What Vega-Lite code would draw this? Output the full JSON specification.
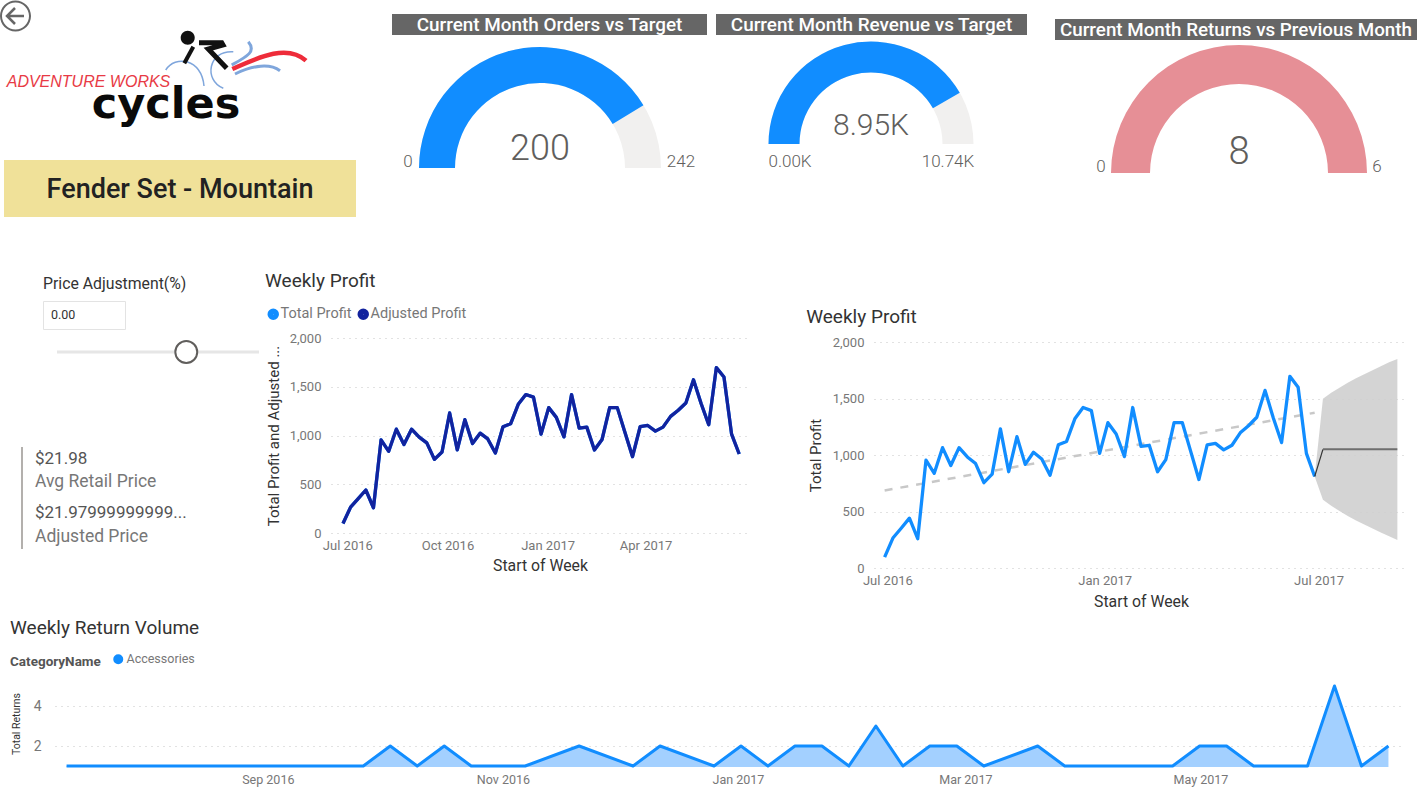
{
"$schema":"https://vega.github.io/schema/vega-lite/v6.json",
"padding":0,
"background":"white",
"spacing":0,
"data":{"values":[]},
"resolve":{"scale":{"color":"independent"},"legend":{"color":"independent"}},
"config":{
 "view":{"stroke":null},
 "font":"Roboto",
 "concat":{"spacing":0},
 "axis":{"domain":false,"ticks":false,"labelColor":"#777777","labelFont":"Roboto","titleFont":"Roboto","titleColor":"#333333","titleFontWeight":"normal","gridColor":"#C4C4C4","gridDash":[1,5],"gridWidth":1},
 "title":{"font":"Roboto","fontWeight":"normal","color":"#333333","anchor":"start"}
},
"datasets":{
 "one":[{"item":"logo"}],
 "weekly":[
 {"week":"2016-06-27","total":97,"adjusted":97},{"week":"2016-07-04","total":265,"adjusted":265},{"week":"2016-07-11","total":352,"adjusted":352},{"week":"2016-07-18","total":441,"adjusted":441},{"week":"2016-07-25","total":259,"adjusted":259},{"week":"2016-08-01","total":955,"adjusted":955},{"week":"2016-08-08","total":838,"adjusted":838},{"week":"2016-08-15","total":1065,"adjusted":1065},{"week":"2016-08-22","total":907,"adjusted":907},{"week":"2016-08-29","total":1065,"adjusted":1065},{"week":"2016-09-05","total":983,"adjusted":983},{"week":"2016-09-12","total":924,"adjusted":924},{"week":"2016-09-19","total":755,"adjusted":755},{"week":"2016-09-26","total":831,"adjusted":831},{"week":"2016-10-03","total":1231,"adjusted":1231},{"week":"2016-10-10","total":852,"adjusted":852},{"week":"2016-10-17","total":1162,"adjusted":1162},{"week":"2016-10-24","total":917,"adjusted":917},{"week":"2016-10-31","total":1024,"adjusted":1024},{"week":"2016-11-07","total":965,"adjusted":965},{"week":"2016-11-14","total":821,"adjusted":821},{"week":"2016-11-21","total":1090,"adjusted":1090},{"week":"2016-11-28","total":1120,"adjusted":1120},{"week":"2016-12-05","total":1320,"adjusted":1320},{"week":"2016-12-12","total":1420,"adjusted":1420},{"week":"2016-12-19","total":1393,"adjusted":1393},{"week":"2016-12-26","total":1014,"adjusted":1014},{"week":"2017-01-02","total":1286,"adjusted":1286},{"week":"2017-01-09","total":1186,"adjusted":1186},{"week":"2017-01-16","total":986,"adjusted":986},{"week":"2017-01-23","total":1420,"adjusted":1420},{"week":"2017-01-30","total":1076,"adjusted":1076},{"week":"2017-02-06","total":1086,"adjusted":1086},{"week":"2017-02-13","total":852,"adjusted":852},{"week":"2017-02-20","total":959,"adjusted":959},{"week":"2017-02-27","total":1286,"adjusted":1286},{"week":"2017-03-06","total":1286,"adjusted":1286},{"week":"2017-03-13","total":1034,"adjusted":1034},{"week":"2017-03-20","total":783,"adjusted":783},{"week":"2017-03-27","total":1090,"adjusted":1090},{"week":"2017-04-03","total":1103,"adjusted":1103},{"week":"2017-04-10","total":1045,"adjusted":1045},{"week":"2017-04-17","total":1086,"adjusted":1086},{"week":"2017-04-24","total":1196,"adjusted":1196},{"week":"2017-05-01","total":1259,"adjusted":1259},{"week":"2017-05-08","total":1334,"adjusted":1334},{"week":"2017-05-15","total":1572,"adjusted":1572},{"week":"2017-05-22","total":1328,"adjusted":1328},{"week":"2017-05-29","total":1110,"adjusted":1110},{"week":"2017-06-05","total":1696,"adjusted":1696},{"week":"2017-06-12","total":1600,"adjusted":1600},{"week":"2017-06-19","total":1014,"adjusted":1014},{"week":"2017-06-26","total":810,"adjusted":810}],
 "forecast":[
 {"week":"2017-06-26","forecast":810,"lower":810,"upper":810},{"week":"2017-07-03","forecast":1050,"lower":604,"upper":1498},{"week":"2017-07-10","forecast":1050,"lower":550,"upper":1550},{"week":"2017-07-17","forecast":1050,"lower":505,"upper":1595},{"week":"2017-07-24","forecast":1050,"lower":460,"upper":1640},{"week":"2017-07-31","forecast":1050,"lower":420,"upper":1680},{"week":"2017-08-07","forecast":1050,"lower":385,"upper":1715},{"week":"2017-08-14","forecast":1050,"lower":350,"upper":1750},{"week":"2017-08-21","forecast":1050,"lower":315,"upper":1785},{"week":"2017-08-28","forecast":1050,"lower":280,"upper":1820},{"week":"2017-09-04","forecast":1050,"lower":247,"upper":1850}],
 "trend":[{"week":"2016-06-27","trend":686},{"week":"2017-06-26","trend":1374}],
 "returns":[
 {"week":"2016-07-10","returns":1},{"week":"2016-07-17","returns":1},{"week":"2016-07-24","returns":1},{"week":"2016-07-31","returns":1},{"week":"2016-08-07","returns":1},{"week":"2016-08-14","returns":1},{"week":"2016-08-21","returns":1},{"week":"2016-08-28","returns":1},{"week":"2016-09-04","returns":1},{"week":"2016-09-11","returns":1},{"week":"2016-09-18","returns":1},{"week":"2016-09-25","returns":1},{"week":"2016-10-02","returns":2},{"week":"2016-10-09","returns":1},{"week":"2016-10-16","returns":2},{"week":"2016-10-23","returns":1},{"week":"2016-10-30","returns":1},{"week":"2016-11-06","returns":1},{"week":"2016-11-20","returns":2},{"week":"2016-12-04","returns":1},{"week":"2016-12-11","returns":2},{"week":"2016-12-25","returns":1},{"week":"2017-01-01","returns":2},{"week":"2017-01-08","returns":1},{"week":"2017-01-15","returns":2},{"week":"2017-01-22","returns":2},{"week":"2017-01-29","returns":1},{"week":"2017-02-05","returns":3},{"week":"2017-02-12","returns":1},{"week":"2017-02-19","returns":2},{"week":"2017-02-26","returns":2},{"week":"2017-03-05","returns":1},{"week":"2017-03-19","returns":2},{"week":"2017-03-26","returns":1},{"week":"2017-04-02","returns":1},{"week":"2017-04-09","returns":1},{"week":"2017-04-16","returns":1},{"week":"2017-04-23","returns":1},{"week":"2017-04-30","returns":2},{"week":"2017-05-07","returns":2},{"week":"2017-05-14","returns":1},{"week":"2017-05-21","returns":1},{"week":"2017-05-28","returns":1},{"week":"2017-06-04","returns":5},{"week":"2017-06-11","returns":1},{"week":"2017-06-18","returns":2}]
},
"vconcat":[
 {"spacing":0,"hconcat":[
  {"spacing":0,"vconcat":[
   {"width":392,"height":160,"data":{"name":"one"},"layer":[
    {"mark":{"type":"point","shape":"M-196,-64a15.5,15.5 0 1,1 31,0a15.5,15.5 0 1,1 -31,0ZM-194,-64a13.5,13.5 0 1,0 27,0a13.5,13.5 0 1,0 -27,0Z","size":4,"filled":true,"fill":"#666666","opacity":1}},
    {"mark":{"type":"point","shape":"M-172,-64L-188,-64M-181,-72L-189,-64L-181,-56","size":4,"filled":false,"stroke":"#666666","strokeWidth":2.5,"opacity":1}},
    {"mark":{"type":"point","shape":"M-30.3,-10C-21,-25 5.7,-21.7 8,6M27.3,8.3C7.3,0 12.3,-30 37.3,-28.3","size":4,"filled":false,"stroke":"#7FA6DC","strokeWidth":1.5,"opacity":1}},
    {"mark":{"type":"point","shape":"M35.7,-15C50.7,-23.3 60.7,-28.3 52.3,-38.3M39,-6C57.3,-15 74,-16.7 84,-9.3","size":4,"filled":false,"stroke":"#7FA6DC","strokeWidth":3,"opacity":1}},
    {"mark":{"type":"point","shape":"M36.3,-11C60.7,-21.7 90.7,-36.7 110,-19.3","size":4,"filled":false,"stroke":"#EE2C3A","strokeWidth":4.5,"opacity":1}},
    {"mark":{"type":"point","shape":"M-15.3,-42.3a7,7 0 1,0 14,0a7,7 0 1,0 -14,0Z","size":4,"filled":true,"fill":"#111111","opacity":1}},
    {"mark":{"type":"point","shape":"M3,-37.3L25.7,-37.3L27,-35L12.3,-31L30.7,-11.7","size":4,"filled":false,"stroke":"#111111","strokeWidth":5,"opacity":1}},
    {"mark":{"type":"point","shape":"M-2.7,-33.3L-11.7,-16.7","size":4,"filled":false,"stroke":"#111111","strokeWidth":4,"opacity":1}},
    {"data":{"values":[{"brand":"ADVENTURE WORKS"}]},"mark":{"type":"text","dx":-107.5,"dy":2,"font":"Liberation Sans","fontStyle":"italic","fontSize":16,"color":"#E83A45"},"encoding":{"text":{"field":"brand"}}},
    {"data":{"values":[{"brand":"cycles"}]},"mark":{"type":"text","dx":-30,"dy":25,"font":"DejaVu Sans","fontWeight":"bold","fontSize":43,"color":"#0A0A0A"},"encoding":{"text":{"field":"brand"}}}
   ]},
   {"spacing":0,"bounds":"flush","hconcat":[
    {"width":4,"height":57,"mark":"point"},
    {"width":352,"height":57,"view":{"fill":"#F0E199"},"data":{"values":[{"product":"Fender Set - Mountain"}]},"mark":{"type":"text","dy":1.5,"fontSize":27,"fontWeight":500,"font":"Roboto","color":"#222222"},"encoding":{"text":{"field":"product"}}},
    {"width":36,"height":57,"mark":"point"}
   ]}
  ]},
  {"spacing":0,"vconcat":[
   {"width":324,"height":14,"mark":"point"},
   {"width":315,"height":21,"view":{"fill":"#666666"},"data":{"values":[{"h":"Current Month Orders vs Target"}]},"mark":{"type":"text","fontSize":18.9,"fontWeight":500,"color":"white"},"encoding":{"text":{"field":"h"}}},
   {"spacing":0,"bounds":"flush","columns":3,"concat":[
    {"width":147,"height":132,"mark":"point"},{"width":1,"height":1,"mark":"point"},{"width":175,"height":1,"mark":"point"},
    {"width":1,"height":1,"mark":"point"},
    {"width":2,"height":2,"layer":[
     {"data":{"values":[{"seg":"target","from":0,"to":242}]},"mark":{"type":"arc","radius":121,"radius2":85,"color":"#F1F0EF"},"encoding":{"theta":{"field":"from","type":"quantitative","scale":{"domain":[0,242],"range":[-1.5708,1.5708]},"stack":null},"theta2":{"field":"to"}}},
     {"data":{"values":[{"seg":"value","from":0,"to":200}]},"mark":{"type":"arc","radius":121,"radius2":85,"color":"#118DFF"},"encoding":{"theta":{"field":"from","type":"quantitative","scale":{"domain":[0,242],"range":[-1.5708,1.5708]},"stack":null},"theta2":{"field":"to"}}},
     {"data":{"values":[{"t":"200"}]},"mark":{"type":"text","dy":-19,"fontWeight":300,"fontSize":36,"color":"#605E5C"},"encoding":{"text":{"field":"t"}}},
     {"data":{"values":[{"t":"0"}]},"mark":{"type":"text","dx":-132,"dy":-6,"fontWeight":300,"fontSize":17,"color":"#605E5C"},"encoding":{"text":{"field":"t"}}},
     {"data":{"values":[{"t":"242"}]},"mark":{"type":"text","dx":141,"dy":-6,"fontWeight":300,"fontSize":17,"color":"#605E5C"},"encoding":{"text":{"field":"t"}}}
    ]},
    {"width":1,"height":1,"mark":"point"},
    {"width":1,"height":20,"mark":"point"}
   ]}
  ]},
  {"spacing":0,"vconcat":[
   {"width":339,"height":14,"mark":"point"},
   {"width":311,"height":21,"view":{"fill":"#666666"},"data":{"values":[{"h":"Current Month Revenue vs Target"}]},"mark":{"type":"text","fontSize":18.9,"fontWeight":500,"color":"white"},"encoding":{"text":{"field":"h"}}},
   {"spacing":0,"bounds":"flush","columns":3,"concat":[
    {"width":154,"height":108,"mark":"point"},{"width":1,"height":1,"mark":"point"},{"width":183,"height":1,"mark":"point"},
    {"width":1,"height":1,"mark":"point"},
    {"width":2,"height":2,"layer":[
     {"data":{"values":[{"seg":"target","from":0,"to":10740}]},"mark":{"type":"arc","radius":102.5,"radius2":71.5,"color":"#F1F0EF"},"encoding":{"theta":{"field":"from","type":"quantitative","scale":{"domain":[0,10740],"range":[-1.5708,1.5708]},"stack":null},"theta2":{"field":"to"}}},
     {"data":{"values":[{"seg":"value","from":0,"to":8950}]},"mark":{"type":"arc","radius":102.5,"radius2":71.5,"color":"#118DFF"},"encoding":{"theta":{"field":"from","type":"quantitative","scale":{"domain":[0,10740],"range":[-1.5708,1.5708]},"stack":null},"theta2":{"field":"to"}}},
     {"data":{"values":[{"t":"8.95K"}]},"mark":{"type":"text","dy":-18,"fontWeight":300,"fontSize":30,"color":"#605E5C"},"encoding":{"text":{"field":"t"}}},
     {"data":{"values":[{"t":"0.00K"}]},"mark":{"type":"text","dx":-81,"dy":18,"fontWeight":300,"fontSize":17,"color":"#605E5C"},"encoding":{"text":{"field":"t"}}},
     {"data":{"values":[{"t":"10.74K"}]},"mark":{"type":"text","dx":77,"dy":18,"fontWeight":300,"fontSize":17,"color":"#605E5C"},"encoding":{"text":{"field":"t"}}}
    ]},
    {"width":1,"height":1,"mark":"point"},
    {"width":1,"height":40,"mark":"point"}
   ]}
  ]},
  {"spacing":0,"vconcat":[
   {"width":364,"height":19,"mark":"point"},
   {"width":362,"height":21,"view":{"fill":"#666666"},"data":{"values":[{"h":"Current Month Returns vs Previous Month"}]},"mark":{"type":"text","fontSize":18.8,"fontWeight":500,"color":"white"},"encoding":{"text":{"field":"h"}}},
   {"spacing":0,"bounds":"flush","columns":3,"concat":[
    {"width":183,"height":132,"mark":"point"},{"width":1,"height":1,"mark":"point"},{"width":179,"height":1,"mark":"point"},
    {"width":1,"height":1,"mark":"point"},
    {"width":2,"height":2,"layer":[
     {"data":{"values":[{"seg":"value","from":0,"to":6}]},"mark":{"type":"arc","radius":128,"radius2":89,"color":"#E68F96"},"encoding":{"theta":{"field":"from","type":"quantitative","scale":{"domain":[0,6],"range":[-1.5708,1.5708]},"stack":null},"theta2":{"field":"to"}}},
     {"data":{"values":[{"t":"8"}]},"mark":{"type":"text","dy":-20,"fontWeight":300,"fontSize":38,"color":"#605E5C"},"encoding":{"text":{"field":"t"}}},
     {"data":{"values":[{"t":"0"}]},"mark":{"type":"text","dx":-138,"dy":-6,"fontWeight":300,"fontSize":17,"color":"#605E5C"},"encoding":{"text":{"field":"t"}}},
     {"data":{"values":[{"t":"6"}]},"mark":{"type":"text","dx":138,"dy":-6,"fontWeight":300,"fontSize":17,"color":"#605E5C"},"encoding":{"text":{"field":"t"}}}
    ]},
    {"width":1,"height":1,"mark":"point"},
    {"width":1,"height":20,"mark":"point"}
   ]}
  ]}
 ]},
 {"width":1419,"height":13,"mark":"point"},
 {"spacing":0,"resolve":{"scale":{"color":"independent"},"legend":{"color":"independent"}},"hconcat":[
  {"spacing":0,"vconcat":[
   {"width":262,"height":26,"mark":"point"},
   {"spacing":0,"bounds":"flush","columns":3,"concat":[
    {"width":43,"height":45,"mark":"point"},{"width":1,"height":1,"mark":"point"},{"width":137,"height":1,"mark":"point"},
    {"width":1,"height":1,"mark":"point"},
    {"width":82,"height":28,"view":{"stroke":"#E3E3E3"},"title":{"text":"Price Adjustment(%)","fontSize":15.8,"offset":8},"data":{"values":[{"v":"0.00"}]},"mark":{"type":"text","align":"left","dx":-33,"fontSize":12.5,"color":"#333333"},"encoding":{"text":{"field":"v"}}},
    {"width":1,"height":1,"mark":"point"}
   ]},
   {"width":262,"height":7,"mark":"point"},
   {"spacing":0,"bounds":"flush","hconcat":[
    {"width":57,"height":30,"mark":"point"},
    {"width":202,"height":30,"layer":[
     {"data":{"values":[{"lo":-64,"hi":36}]},"mark":{"type":"rule","color":"#E6E6E6","strokeWidth":3},"encoding":{"x":{"field":"lo","type":"quantitative","scale":{"domain":[-64,36]},"axis":null},"x2":{"field":"hi"}}},
     {"data":{"values":[{"adj":0}]},"mark":{"type":"point","filled":false,"fill":"white","fillOpacity":1,"opacity":1,"stroke":"#605E5C","strokeWidth":2,"size":480,"shape":"circle"},"encoding":{"x":{"field":"adj","type":"quantitative","scale":{"domain":[-64,36]},"axis":null}}}
    ]},
    {"width":3,"height":30,"mark":"point"}
   ]},
   {"width":262,"height":79,"mark":"point"},
   {"spacing":0,"bounds":"flush","hconcat":[
    {"width":22,"height":102,"mark":"point"},
    {"width":240,"height":102,"layer":[
     {"data":{"values":[{"edge":0}]},"mark":{"type":"rule","color":"#B3B0AD","strokeWidth":2},"encoding":{"x":{"field":"edge","type":"quantitative","scale":{"domain":[0,240]},"axis":null}}},
     {"data":{"values":[{"c":"$21.98"}]},"mark":{"type":"text","align":"left","dx":-107,"dy":-39,"fontSize":17,"color":"#555555"},"encoding":{"text":{"field":"c"}}},
     {"data":{"values":[{"c":"Avg Retail Price"}]},"mark":{"type":"text","align":"left","dx":-107,"dy":-16,"fontSize":17.5,"color":"#777777"},"encoding":{"text":{"field":"c"}}},
     {"data":{"values":[{"c":"$21.97999999999..."}]},"mark":{"type":"text","align":"left","dx":-107,"dy":15,"fontSize":17,"color":"#555555"},"encoding":{"text":{"field":"c"}}},
     {"data":{"values":[{"c":"Adjusted Price"}]},"mark":{"type":"text","align":"left","dx":-107,"dy":39,"fontSize":17.5,"color":"#777777"},"encoding":{"text":{"field":"c"}}}
    ]}
   ]}
  ]},
  {"spacing":0,"bounds":"flush","columns":3,"resolve":{"scale":{"color":"independent"},"legend":{"color":"independent"}},"concat":[
   {"width":69,"height":108,"mark":"point"},{"width":1,"height":1,"mark":"point"},{"width":51,"height":1,"mark":"point"},
   {"width":1,"height":1,"mark":"point"},
   {"width":418,"height":195,"title":{"text":"Weekly Profit","fontSize":19,"dx":-1,"offset":16},
    "data":{"name":"weekly"},
    "encoding":{
     "x":{"field":"week","type":"temporal","title":"Start of Week","scale":{"type":"utc","domain":[{"year":2016,"month":6,"date":16,"utc":true},{"year":2017,"month":7,"date":5,"utc":true}]},"axis":{"values":[{"year":2016,"month":7,"date":1,"utc":true},{"year":2016,"month":10,"date":1,"utc":true},{"year":2017,"month":1,"date":1,"utc":true},{"year":2017,"month":4,"date":1,"utc":true}],"labelExpr":"utcFormat(datum.value,'%b %Y')","grid":false,"labelFontSize":13,"titleFontSize":15.8,"labelPadding":6,"titlePadding":6,"labelOverlap":false}}
    },
    "layer":[
     {"mark":{"type":"line","strokeWidth":3.3,"strokeJoin":"round"},"encoding":{
       "y":{"field":"total","type":"quantitative","title":"Total Profit and Adjusted ...","scale":{"domain":[0,2000]},"axis":{"values":[0,500,1000,1500,2000],"format":",.0f","labelFontSize":13,"titleFontSize":15,"labelPadding":10,"titlePadding":8}},
       "color":{"datum":"Total Profit","type":"nominal","scale":{"domain":["Total Profit","Adjusted Profit"],"range":["#118DFF","#12239E"]},
        "legend":{"title":null,"orient":"none","direction":"horizontal","legendX":-65,"legendY":-31,"symbolType":"circle","symbolSize":30,"symbolStrokeWidth":6,"labelFontSize":14.5,"labelColor":"#777777","columnPadding":-4,"labelOffset":0}}}},
     {"mark":{"type":"line","strokeWidth":3.3,"strokeJoin":"round"},"encoding":{
       "y":{"field":"adjusted","type":"quantitative"},
       "color":{"datum":"Adjusted Profit","type":"nominal"}}}
    ]},
   {"width":1,"height":1,"mark":"point"},
   {"width":1,"height":82,"mark":"point"}
  ]},
  {"spacing":0,"bounds":"flush","columns":3,"concat":[
   {"width":74,"height":112,"mark":"point"},{"width":1,"height":1,"mark":"point"},{"width":11,"height":1,"mark":"point"},
   {"width":1,"height":1,"mark":"point"},
   {"width":534,"height":226,"title":{"text":"Weekly Profit","fontSize":19,"dx":-2,"offset":9},
    "layer":[
     {"data":{"name":"forecast"},"mark":{"type":"area","color":"#CFCFCF","opacity":0.9},"encoding":{
       "x":{"field":"week","type":"temporal","title":"Start of Week","scale":{"type":"utc","domain":[{"year":2016,"month":6,"date":18,"utc":true},{"year":2017,"month":9,"date":13,"utc":true}]},"axis":{"values":[{"year":2016,"month":7,"date":1,"utc":true},{"year":2017,"month":1,"date":1,"utc":true},{"year":2017,"month":7,"date":1,"utc":true}],"labelExpr":"utcFormat(datum.value,'%b %Y')","grid":false,"labelFontSize":13,"labelOffset":-2,"titleFontSize":15.8,"labelPadding":6,"titlePadding":7,"labelOverlap":false}},
       "y":{"field":"upper","type":"quantitative","title":"Total Profit","scale":{"domain":[0,2000]},"axis":{"values":[0,500,1000,1500,2000],"format":",.0f","labelFontSize":13,"titleFontSize":15,"labelPadding":10,"titlePadding":9}},
       "y2":{"field":"lower"}}},
     {"data":{"name":"trend"},"mark":{"type":"line","color":"#C8C8C8","strokeWidth":2.5,"strokeDash":[8,8]},"encoding":{"x":{"field":"week","type":"temporal"},"y":{"field":"trend","type":"quantitative"}}},
     {"data":{"name":"weekly"},"mark":{"type":"line","color":"#118DFF","strokeWidth":3.3,"strokeJoin":"round"},"encoding":{"x":{"field":"week","type":"temporal"},"y":{"field":"total","type":"quantitative"}}},
     {"data":{"values":[{"week":"2017-06-26","forecast":810},{"week":"2017-07-03","forecast":1050}]},"mark":{"type":"line","color":"#333333","strokeWidth":1.2},"encoding":{"x":{"field":"week","type":"temporal"},"y":{"field":"forecast","type":"quantitative"}}},
     {"data":{"name":"forecast"},"transform":[{"filter":"datum.forecast == 1050"}],"mark":{"type":"line","color":"#6E6E6E","strokeWidth":2},"encoding":{"x":{"field":"week","type":"temporal"},"y":{"field":"forecast","type":"quantitative"}}}
    ]},
   {"width":1,"height":1,"mark":"point"},
   {"width":1,"height":47,"mark":"point"}
  ]}
 ]},
 {"spacing":0,"bounds":"flush","columns":3,"resolve":{"scale":{"color":"independent"},"legend":{"color":"independent"}},"concat":[
  {"width":55,"height":65,"mark":"point"},{"width":1,"height":1,"mark":"point"},{"width":19,"height":1,"mark":"point"},
  {"width":1,"height":1,"mark":"point"},
  {"width":1345,"height":87,"title":{"text":"Weekly Return Volume","fontSize":19,"dx":0,"offset":15},
   "data":{"name":"returns"},
   "encoding":{
    "x":{"field":"week","type":"temporal","title":null,"scale":{"type":"utc","domain":[{"year":2016,"month":7,"date":7,"utc":true},{"year":2017,"month":6,"date":21,"utc":true}]},"axis":{"values":[{"year":2016,"month":9,"date":1,"utc":true},{"year":2016,"month":11,"date":1,"utc":true},{"year":2017,"month":1,"date":1,"utc":true},{"year":2017,"month":3,"date":1,"utc":true},{"year":2017,"month":5,"date":1,"utc":true}],"labelExpr":"utcFormat(datum.value,'%b %Y')","grid":false,"labelFontSize":12.5,"labelOffset":-3,"labelPadding":6,"labelOverlap":false}},
    "y":{"field":"returns","type":"quantitative","title":"Total Returns","scale":{"domain":[0.95,5.3],"nice":false,"zero":false},"axis":{"values":[2,4],"labelFontSize":14,"titleFontSize":10.5,"labelPadding":14,"titlePadding":12}}
   },
   "layer":[
    {"mark":{"type":"area","color":"#A3D0FF"},"encoding":{"y2":{"datum":0.95}}},
    {"mark":{"type":"line","strokeWidth":3,"strokeJoin":"round"},"encoding":{"color":{"datum":"Accessories","type":"nominal","scale":{"range":["#118DFF"]},"legend":{"title":"CategoryName","titleOrient":"left","titleBaseline":"middle","titleFontWeight":"bold","titleFontSize":13.5,"titleColor":"#555555","titlePadding":11,"orient":"none","direction":"horizontal","legendX":-45,"legendY":-27,"symbolType":"circle","symbolSize":25,"symbolStrokeWidth":5,"labelFontSize":12.5,"labelColor":"#777777","labelOffset":2}}}}
   ]},
  {"width":1,"height":1,"mark":"point"},
  {"width":1,"height":20,"mark":"point"}
 ]}
]
}
